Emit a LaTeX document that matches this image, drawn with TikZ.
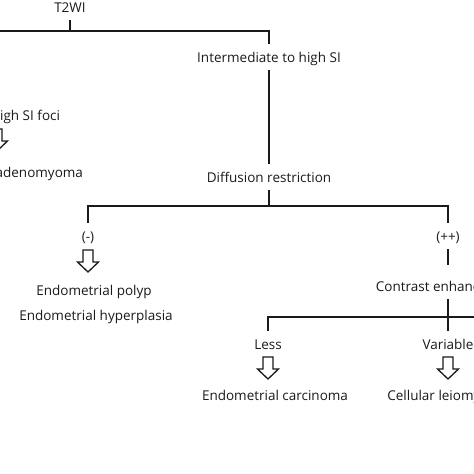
\documentclass[tikz,border=0pt]{standalone}
\usepackage{fontspec}
\setmainfont{Open Sans}
\usetikzlibrary{positioning,calc}
\definecolor{ink}{HTML}{1A1A1A}
\tikzstyle{txt_n} = [text=ink, font=\fontsize{13.5}{15}\selectfont, inner sep=0pt, outer sep=0pt, text height=11pt, text depth=1pt, inner ysep=7pt]
\tikzstyle{txt_e} = [txt_n, anchor=east]
\tikzset{fat_arr/.pic={\draw[ink, line width=1.3pt, line join=miter, fill=white] (-5,0) -- (5,0) -- (5,12) -- (10.5,12) -- (0,22) -- (-10.5,12) -- (-5,12) -- cycle;}}

\begin{document}
\begin{tikzpicture}[x=1pt,y=-1pt,line width=1.6pt,draw=ink]
\useasboundingbox (0,0) rectangle (474,474);
\clip (0,0) rectangle (474,474);
% top level
\node [txt_n] (t2wi) at (70,7) {T2WI};
\node [txt_n] (mid) at (269,57) {Intermediate to high SI};
\coordinate (topleft) at (-30,31);
\draw (topleft) -| (mid);
\draw (t2wi) -- (t2wi |- topleft);
% left branch (cut off)
\node [txt_e] (foci) at (60,115) {High SI foci};
\pic at (-3,129) {fat_arr};
\node [txt_e] (adeno) at (83,172) {adenomyoma};
% diffusion
\node [txt_n] (diff) at (269,177) {Diffusion restriction};
\draw (mid) -- (diff);
\node [txt_n] (minus) at (88,236) {(-)};
\node [txt_n] (plus) at (448,236) {(++)};
\coordinate (split) at (269,206);
\draw (diff) -- (split);
\draw (minus) |- (split) -| (plus);
\pic at (88,250) {fat_arr};
\node [txt_n] (polyp) at (94,290) {Endometrial polyp};
\node [txt_n] (hyper) at (96,315) {Endometrial hyperplasia};
% contrast
\node [txt_n] (contrast) at (448,286) {Contrast enhancement};
\draw (plus.south) -- ($(contrast.north)+(0,-8)$);
\node [txt_n] (less) at (268,344) {Less};
\node [txt_n] (var) at (448,344) {Variable};
\coordinate (right) at (520,317);
\draw (contrast) -- (var);
\draw (less) |- (right);
\pic at (268,357) {fat_arr};
\pic at (448,357) {fat_arr};
\node [txt_n] (carci) at (275,395) {Endometrial carcinoma};
\node [txt_n] (cell) at (448,395) {Cellular leiomyoma};
\end{tikzpicture}
\end{document}
